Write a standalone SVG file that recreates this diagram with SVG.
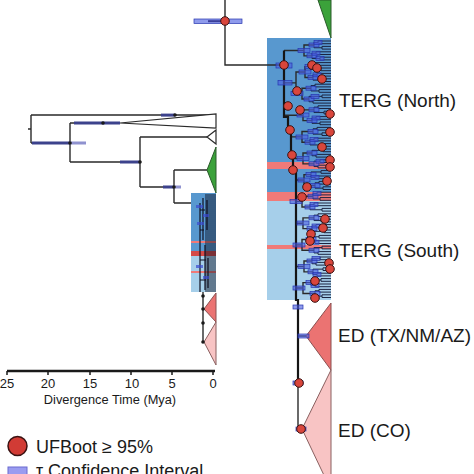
<svg xmlns="http://www.w3.org/2000/svg" width="474" height="474" viewBox="0 0 474 474">
<defs>
<style>
.br{fill:none;stroke:#2a2a2a;stroke-width:1.4}
.sp{fill:none;stroke:#151515;stroke-width:2.2}
.tip{fill:none;stroke:#1c2440;stroke-width:1}
.ci{fill:#4a5ee0;fill-opacity:.62;stroke:#2535b0;stroke-width:.7}
.cil{fill:#3c428c;stroke:none}
.uf{fill:#d9463c;stroke:#3a1212;stroke-width:1}
.dot{fill:#1a1a1a}
.lab{font-family:"Liberation Sans",Arial,sans-serif;fill:#1a1a1a}
.dk{fill:#5898cf}
.lt{fill:#a6cfea}
.pk{fill:#f07a78}
</style>
<pattern id="dense" patternUnits="userSpaceOnUse" width="6" height="2">
<line x1="0" y1="1" x2="6" y2="1" stroke="#0d0f1e" stroke-width="0.9"/>
</pattern>
</defs>
<rect width="474" height="474" fill="#ffffff"/>

<!-- backgrounds of collapsed/highlighted clades -->
<g id="terg-box">
<rect class="dk" x="267" y="38" width="64" height="163"/>
<rect class="pk" x="267" y="162" width="64" height="7"/>
<rect class="pk" x="267" y="192" width="64" height="9"/>
<rect class="lt" x="267" y="201" width="64" height="99"/>
<rect class="pk" x="267" y="245" width="64" height="4"/>
</g>

<g id="green-clade-right">
<polygon points="318,0 331,38 331,0" fill="#3ba23a" stroke="#2a5a2a" stroke-width="1"/>
</g>
<g id="ed-txnmaz">
<polygon points="331,303 306,336 331,370" fill="#eb7372" stroke="#8a5050" stroke-width="1"/>
</g>
<g id="ed-co">
<polygon points="331,370 302,429 331,490" fill="#f8c4c4" stroke="#8a6060" stroke-width="1"/>
</g>

<!-- connectors -->
<g id="connectors">
<path class="br" d="M225 0V65H284"/>
<path class="tip" d="M331 41H318V43.7H331M331 46.4H322V49.1H331M331 51.8H316V54.5H331M331 57.2H320V59.9H331M331 62.6H314V65.3H331M331 68H321V70.7H331M331 73.4H317V76.1H331M331 78.8H323V81.5H331M331 84.2H315V86.9H331M331 89.6H319V92.3H331M331 95H322V97.7H331M331 100.4H313V103.1H331M331 105.8H318V108.5H331M331 111.2H324V113.9H331M331 116.6H316V119.3H331M331 122H320V124.7H331M331 127.4H317V130.1H331M331 132.8H322V135.5H331M331 138.2H314V140.9H331M331 143.6H319V146.3H331M331 149H323V151.7H331M331 154.4H316V157.1H331M331 159.8H320V162.5H331M331 165.2H318V167.9H331M331 170.6H321V173.3H331M331 176H315V178.7H331M331 181.4H319V184.1H331M331 186.8H323V189.5H331M331 192.2H317V194.9H331M331 197.6H320V200.3H331M331 203H314V205.7H331M331 208.4H322V211.1H331M331 213.8H318V216.5H331M331 219.2H321V221.9H331M331 224.6H316V227.3H331M331 230H324V232.7H331M331 235.4H319V238.1H331M331 240.8H315V243.5H331M331 246.2H322V248.9H331M331 251.6H318V254.3H331M331 257H320V259.7H331M331 262.4H316V265.1H331M331 267.8H323V270.5H331M331 273.2H317V275.9H331M331 278.6H321V281.3H331M331 284H315V286.7H331M331 289.4H319V292.1H331M331 294.8H322V297.5H331"/>
<path class="tip" d="M318 42.35H314V47.75H322M316 53.15H312V58.55H320M314 63.95H310V69.35H321M317 74.75H313V80.15H323M315 85.55H311V90.95H319M322 96.35H309V101.75H313M318 107.15H314V112.55H324M316 117.95H312V123.35H320M317 128.75H313V134.15H322M314 139.55H310V144.95H319M323 150.35H312V155.75H316M320 161.15H314V166.55H318M321 171.95H311V177.35H315M319 182.75H315V188.15H323M317 193.55H313V198.95H320M314 204.35H310V209.75H322M318 215.15H314V220.55H321M316 225.95H312V231.35H324M319 236.75H311V242.15H315M322 247.55H314V252.95H318M320 258.35H312V263.75H316M323 269.15H313V274.55H317M321 279.95H311V285.35H315M319 290.75H315V296.15H322"/>
<path class="br" d="M314 45.05H304V55.85H312M310 66.65H305V77.45H313M311 88.25H302V99.05H309M314 109.85H303V120.65H312M313 131.45H302V142.25H310M312 153.05H303V163.85H314M311 174.65H304V185.45H315M313 196.25H302V207.05H310M314 217.85H303V228.65H312M311 239.45H302V250.25H314M312 261.05H304V271.85H313M311 282.65H303V293.45H315"/>
<path class="br" d="M284 50.45H304M305 72.05H296V93.65H302M284 82.85H296M284 115.25H303M291 136.85H302M293 158.45H303M296 180.05H304M296 201.65H302M296 223.25H303M296 244.85H302M296 266.45H304M296 288.05H303M298 336H306M298 429H302"/>
<path class="sp" d="M284 50.45V117H288V130H291V155H293V171H296V300H298V383"/>
<path class="br" d="M298 383V429"/>

<!-- left overview tree -->
<path class="br" d="M28 129H31M31 115V143M31 115H216M31 143H70M70 123V162M70 123H120M70 162H140M140 137V187M140 137H207M140 187H174M174 170V203M174 170H207M174 203H192"/>
</g>

<!-- confidence intervals, right tree -->
<g id="ci-right">
<rect class="ci" x="194" y="19" width="48" height="4.5"/>
<rect x="208" y="20.2" width="14" height="2" fill="#3a3f9a"/>
<rect class="ci" x="276" y="63" width="16" height="5"/>
<rect class="ci" x="278" y="80.5" width="14" height="4.5"/>
<rect class="ci" x="298" y="48.5" width="12" height="4"/>
<rect class="ci" x="299" y="70" width="12" height="4"/>
<rect class="ci" x="291" y="91.6" width="12" height="4"/>
<rect class="ci" x="297" y="113" width="12" height="4"/>
<rect class="ci" x="296" y="135" width="12" height="4"/>
<rect class="ci" x="297" y="156.5" width="12" height="4"/>
<rect class="ci" x="298" y="178" width="12" height="4"/>
<rect class="ci" x="290" y="199.6" width="12" height="4"/>
<rect class="ci" x="297" y="221" width="12" height="4"/>
<rect class="ci" x="293" y="243" width="12" height="4"/>
<rect class="ci" x="298" y="264.5" width="12" height="4"/>
<rect class="ci" x="293" y="286" width="12" height="4"/>
<rect class="ci" x="309" y="43" width="10" height="4"/>
<rect class="ci" x="307" y="53.8" width="10" height="4"/>
<rect class="ci" x="305" y="64.6" width="10" height="4"/>
<rect class="ci" x="308" y="75.4" width="10" height="4"/>
<rect class="ci" x="306" y="86.2" width="10" height="4"/>
<rect class="ci" x="304" y="97" width="10" height="4"/>
<rect class="ci" x="309" y="107.8" width="10" height="4"/>
<rect class="ci" x="307" y="118.6" width="10" height="4"/>
<rect class="ci" x="308" y="129.4" width="10" height="4"/>
<rect class="ci" x="305" y="140.2" width="10" height="4"/>
<rect class="ci" x="307" y="151" width="10" height="4"/>
<rect class="ci" x="309" y="161.8" width="10" height="4"/>
<rect class="ci" x="306" y="172.6" width="10" height="4"/>
<rect class="ci" x="310" y="183.4" width="10" height="4"/>
<rect class="ci" x="308" y="194.2" width="10" height="4"/>
<rect class="ci" x="305" y="205" width="10" height="4"/>
<rect class="ci" x="309" y="215.8" width="10" height="4"/>
<rect class="ci" x="307" y="226.6" width="10" height="4"/>
<rect class="ci" x="306" y="237.4" width="10" height="4"/>
<rect class="ci" x="309" y="248.2" width="10" height="4"/>
<rect class="ci" x="307" y="259" width="10" height="4"/>
<rect class="ci" x="308" y="269.8" width="10" height="4"/>
<rect class="ci" x="306" y="280.6" width="10" height="4"/>
<rect class="ci" x="310" y="291.4" width="10" height="4"/>
<rect class="ci" x="314" y="40.4" width="8" height="4"/>
<rect class="ci" x="312" y="51.2" width="8" height="4"/>
<rect class="ci" x="316" y="56.6" width="8" height="4"/>
<rect class="ci" x="313" y="72.8" width="8" height="4"/>
<rect class="ci" x="311" y="94.4" width="8" height="4"/>
<rect class="ci" x="312" y="116" width="8" height="4"/>
<rect class="ci" x="310" y="137.6" width="8" height="4"/>
<rect class="ci" x="316" y="159.2" width="8" height="4"/>
<rect class="ci" x="311" y="175.4" width="8" height="4"/>
<rect class="ci" x="313" y="191.6" width="8" height="4"/>
<rect class="ci" x="310" y="202.4" width="8" height="4"/>
<rect class="ci" x="312" y="224" width="8" height="4"/>
<rect class="ci" x="311" y="240.2" width="8" height="4"/>
<rect class="ci" x="312" y="256.4" width="8" height="4"/>
<rect class="ci" x="313" y="272.6" width="8" height="4"/>
<rect class="ci" x="311" y="283.4" width="8" height="4"/>
<rect class="ci" x="293" y="305" width="10" height="4"/>
<rect class="ci" x="298" y="334" width="11" height="4"/>
<rect class="ci" x="293" y="381" width="10" height="4"/>
<rect class="ci" x="296" y="427" width="10" height="4"/>
</g>

<!-- UFBoot support, right tree -->
<g id="uf-right">
<circle class="uf" cx="225" cy="21" r="4.3"/>
<circle class="uf" cx="284" cy="65" r="4.3"/>
<circle class="uf" cx="312" cy="65" r="4.3"/>
<circle class="uf" cx="317" cy="68" r="4.3"/>
<circle class="uf" cx="322" cy="79" r="4.3"/>
<circle class="uf" cx="297" cy="91" r="4.3"/>
<circle class="uf" cx="288" cy="106" r="4.3"/>
<circle class="uf" cx="300" cy="110" r="4.3"/>
<circle class="uf" cx="330" cy="114" r="4.3"/>
<circle class="uf" cx="290" cy="130" r="4.3"/>
<circle class="uf" cx="330" cy="132" r="4.3"/>
<circle class="uf" cx="322" cy="147" r="4.3"/>
<circle class="uf" cx="292" cy="155" r="4.3"/>
<circle class="uf" cx="330" cy="160" r="4.3"/>
<circle class="uf" cx="330" cy="167" r="4.3"/>
<circle class="uf" cx="293" cy="170" r="4.3"/>
<circle class="uf" cx="327" cy="181" r="4.3"/>
<circle class="uf" cx="307" cy="187" r="4.3"/>
<circle class="uf" cx="302" cy="197" r="4.3"/>
<circle class="uf" cx="325" cy="219" r="4.3"/>
<circle class="uf" cx="323" cy="228" r="4.3"/>
<circle class="uf" cx="311" cy="234" r="4.3"/>
<circle class="uf" cx="310" cy="241" r="4.3"/>
<circle class="uf" cx="329" cy="263" r="4.3"/>
<circle class="uf" cx="330" cy="269" r="4.3"/>
<circle class="uf" cx="315" cy="281" r="4.3"/>
<circle class="uf" cx="315" cy="298" r="4.3"/>
<circle class="uf" cx="299" cy="383" r="4.3"/>
<circle class="uf" cx="301" cy="429" r="4.3"/>
</g>

<!-- left overview tree nodes -->
<g id="overview">
<rect class="cil" x="161" y="113.6" width="14" height="3"/>
<rect class="cil" x="32" y="141.5" width="38" height="3"/>
<rect x="70" y="141.5" width="16" height="3" fill="#8f92cf"/>
<rect class="cil" x="74" y="121.5" width="46" height="3"/>
<rect class="cil" x="120" y="160.5" width="20" height="3"/>
<rect class="cil" x="163" y="185.5" width="11" height="3"/>
<rect x="174" y="185.5" width="7" height="3" fill="#8f92cf"/>
<polygon points="120,123 216,114 216,128" fill="#ffffff" stroke="#2a2a2a" stroke-width="1.2"/>
<polygon points="207,137 216,130 216,144" fill="#ffffff" stroke="#2a2a2a" stroke-width="1.2"/>
<polygon points="207,170 216,147 216,193" fill="#3ba23a" stroke="#2a5a2a" stroke-width="1"/>
<rect class="dk" x="191" y="193" width="25" height="48"/>
<rect class="pk" x="191" y="241" width="25" height="2"/>
<rect class="dk" x="191" y="243" width="25" height="8"/>
<rect x="191" y="251" width="25" height="5" fill="#d44a48"/>
<rect class="lt" x="191" y="256" width="25" height="36"/>
<rect class="pk" x="191" y="271" width="25" height="2"/>
<rect x="205" y="194" width="11" height="98" fill="url(#dense)"/>
<path d="M200 203V292M203 198V240M205 245V290M207 200V230M208 258V288M200 210H205M200 230H204M200 260H206M200 280H206" fill="none" stroke="#101020" stroke-width="1.2"/>
<rect x="196" y="205" width="7" height="3" fill="#3a4ad0" opacity=".7"/>
<rect x="197" y="222" width="7" height="3" fill="#3a4ad0" opacity=".7"/>
<rect x="196" y="265" width="7" height="3" fill="#3a4ad0" opacity=".7"/>
<rect x="203" y="214" width="6" height="3" fill="#3a4ad0" opacity=".7"/>
<rect x="203" y="276" width="6" height="3" fill="#3a4ad0" opacity=".7"/>
<polygon points="216,293 204,309 216,322" fill="#eb7372" stroke="#8a5050" stroke-width="1"/>
<polygon points="216,322 204,342 216,365" fill="#f8c4c4" stroke="#8a6060" stroke-width="1"/>
<path class="br" d="M203 292V342"/>
<circle class="dot" cx="175" cy="115" r="1.8"/>
<circle class="dot" cx="103" cy="123" r="1.8"/>
<circle class="dot" cx="70" cy="143" r="1.8"/>
<circle class="dot" cx="140" cy="162" r="1.8"/>
<circle class="dot" cx="174" cy="187" r="1.8"/>
<circle class="dot" cx="203" cy="296" r="1.8"/>
<circle class="dot" cx="203" cy="309" r="1.8"/>
<circle class="dot" cx="203" cy="323" r="1.8"/>
<circle class="dot" cx="203" cy="342" r="1.8"/>
</g>

<!-- axis -->
<g id="axis">
<path d="M7 371H215" stroke="#1a1a1a" stroke-width="2.4" fill="none"/>
<path d="M7 371V375M48 371V375M90 371V375M131 371V375M172 371V375M213 371V375" stroke="#1a1a1a" stroke-width="1.5" fill="none"/>
<g class="lab" font-size="13" text-anchor="middle">
<text x="7" y="388">25</text>
<text x="48" y="388">20</text>
<text x="90" y="388">15</text>
<text x="132" y="388">10</text>
<text x="172" y="388">5</text>
<text x="213" y="388">0</text>
</g>
<text class="lab" x="110" y="404" font-size="12.8" text-anchor="middle">Divergence Time (Mya)</text>
</g>

<!-- clade labels -->
<g id="labels" class="lab" font-size="19">
<text x="339" y="107">TERG (North)</text>
<text x="339" y="257">TERG (South)</text>
<text x="338" y="342">ED (TX/NM/AZ)</text>
<text x="338" y="437">ED (CO)</text>
</g>

<!-- legend -->
<g id="legend">
<circle cx="17.5" cy="446" r="9.5" fill="#d13b35" stroke="#3a1212" stroke-width="1.5"/>
<text class="lab" x="36" y="453" font-size="18">UFBoot ≥ 95%</text>
<rect x="8" y="467" width="19" height="14" fill="#9a9cf0" stroke="#6a6acf" stroke-width="1"/>
<text class="lab" x="36" y="477" font-size="18">τ Confidence Interval</text>
</g>
</svg>
